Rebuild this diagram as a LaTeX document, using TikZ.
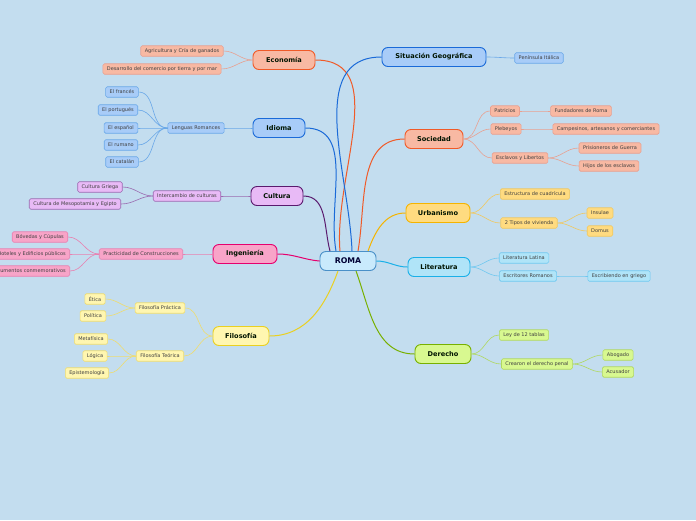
\documentclass[tikz,border=0pt]{standalone}
\usepackage{fontspec}
\setmainfont{DejaVu Sans}
\begin{document}
\begin{tikzpicture}[x=1pt,y=-1pt,
 main/.style={draw,rounded corners=6pt,line width=0.9pt,minimum height=19pt,inner xsep=8pt,font=\fontsize{6.6}{7}\selectfont\bfseries,text=black!80!green!40!black},
 leaf/.style={draw,rounded corners=1.5pt,line width=0.6pt,minimum height=10.5pt,inner xsep=4pt,inner ysep=1pt,font=\fontsize{5}{5.5}\selectfont,text=black!75},
 br/.style={line width=1pt},
 sb/.style={line width=0.6pt}]
\definecolor{bg}{HTML}{C3DDEF}
\fill[bg] (0,0) rectangle (696,520);
\useasboundingbox (0,0) rectangle (696,520);
\definecolor{ecoF}{HTML}{F8B9A3}\definecolor{ecoD}{HTML}{F05A28}\definecolor{ecoL}{HTML}{E8A090}
\definecolor{idF}{HTML}{A8CCF8}\definecolor{idD}{HTML}{1A6AD8}\definecolor{idL}{HTML}{6AA8E8}
\definecolor{cuF}{HTML}{E8BAF6}\definecolor{cuD}{HTML}{5A1A6E}\definecolor{cuL}{HTML}{9A6AB0}
\definecolor{inF}{HTML}{F8A4C8}\definecolor{inD}{HTML}{E6006E}\definecolor{inL}{HTML}{E880B0}
\definecolor{fiF}{HTML}{FFF6B0}\definecolor{fiD}{HTML}{EAD020}\definecolor{fiL}{HTML}{EEDC70}
\definecolor{urF}{HTML}{FFDB80}\definecolor{urD}{HTML}{F5B400}\definecolor{urL}{HTML}{F0C860}
\definecolor{liF}{HTML}{B0E4F8}\definecolor{liD}{HTML}{1AB0E8}\definecolor{liL}{HTML}{70C8F0}
\definecolor{deF}{HTML}{D8F890}\definecolor{deD}{HTML}{78B000}\definecolor{deL}{HTML}{B0D860}
\definecolor{roF}{HTML}{C9EAFC}\definecolor{roD}{HTML}{4A90C8}

\node[main,fill=roF,draw=roD,minimum width=56pt,font=\fontsize{7.8}{8}\selectfont\bfseries,text=black!80!blue] (roma) at (348,261) {ROMA};

% Economia
\node[main,fill=ecoF,draw=ecoD,minimum width=62pt] (eco) at (284,60) {Economía};
\node[leaf,fill=ecoF,draw=ecoL] (eco1) at (182,51) {Agricultura y Cría de ganados};
\node[leaf,fill=ecoF,draw=ecoL] (eco2) at (162,69) {Desarrollo del comercio por tierra y por mar};
% Situacion
\node[main,fill=idF,draw=idD,minimum width=104pt] (sit) at (434,57) {Situación Geográfica};
\node[leaf,fill=idF,draw=idL] (sit1) at (539,58) {Península Itálica};
% Idioma
\node[main,fill=idF,draw=idD,minimum width=52pt] (idi) at (279,128) {Idioma};
\node[leaf,fill=idF,draw=idL] (len) at (196,128) {Lenguas Romances};
\node[leaf,fill=idF,draw=idL] (i1) at (122,92) {El francés};
\node[leaf,fill=idF,draw=idL] (i2) at (118,110) {El portugués};
\node[leaf,fill=idF,draw=idL] (i3) at (121,128) {El español};
\node[leaf,fill=idF,draw=idL] (i4) at (121,145) {El rumano};
\node[leaf,fill=idF,draw=idL] (i5) at (122,162) {El catalán};
% Cultura
\node[main,fill=cuF,draw=cuD,minimum width=52pt] (cul) at (277,196) {Cultura};
\node[leaf,fill=cuF,draw=cuL] (int) at (187,196) {Intercambio de culturas};
\node[leaf,fill=cuF,draw=cuL] (c1) at (100,187) {Cultura Griega};
\node[leaf,fill=cuF,draw=cuL] (c2) at (75,204) {Cultura de Mesopotamia y Egipto};
% Ingenieria
\node[main,fill=inF,draw=inD,minimum width=64pt] (ing) at (245,254) {Ingeniería};
\node[leaf,fill=inF,draw=inL] (pra) at (141,254) {Practicidad de Construcciones};
\node[leaf,fill=inF,draw=inL] (g1) at (40,237) {Bóvedas y Cúpulas};
\node[leaf,fill=inF,draw=inL,anchor=east] (g2) at (70,254) {Hoteles y Edificios públicos};
\node[leaf,fill=inF,draw=inL,anchor=east] (g3) at (70,271) {Monumentos conmemorativos};
% Filosofia
\node[main,fill=fiF,draw=fiD,minimum width=56pt] (fil) at (241,336) {Filosofía};
\node[leaf,fill=fiF,draw=fiL] (fp) at (160,308) {Filosofía Práctica};
\node[leaf,fill=fiF,draw=fiL] (f1) at (95,299) {Ética};
\node[leaf,fill=fiF,draw=fiL] (f2) at (93,316) {Política};
\node[leaf,fill=fiF,draw=fiL] (ft) at (160,356) {Filosofía Teórica};
\node[leaf,fill=fiF,draw=fiL] (f3) at (91,339) {Metafísica};
\node[leaf,fill=fiF,draw=fiL] (f4) at (95,356) {Lógica};
\node[leaf,fill=fiF,draw=fiL] (f5) at (87,373) {Epistemología};
% Sociedad
\node[main,fill=ecoF,draw=ecoD,minimum width=58pt] (soc) at (434,139) {Sociedad};
\node[leaf,fill=ecoF,draw=ecoL] (s1) at (505,111) {Patricios};
\node[leaf,fill=ecoF,draw=ecoL] (s2) at (506,129) {Plebeyos};
\node[leaf,fill=ecoF,draw=ecoL] (s3) at (520,158) {Esclavos y Libertos};
\node[leaf,fill=ecoF,draw=ecoL] (s1a) at (581,111) {Fundadores de Roma};
\node[leaf,fill=ecoF,draw=ecoL] (s2a) at (606,129) {Campesinos, artesanos y comerciantes};
\node[leaf,fill=ecoF,draw=ecoL] (s3a) at (610,148) {Prisioneros de Guerra};
\node[leaf,fill=ecoF,draw=ecoL] (s3b) at (609,166) {Hijos de los esclavos};
% Urbanismo
\node[main,fill=urF,draw=urD,minimum width=64pt] (urb) at (438,213) {Urbanismo};
\node[leaf,fill=urF,draw=urL] (u1) at (535,194) {Estructura de cuadrícula};
\node[leaf,fill=urF,draw=urL] (u2) at (529,223) {2 Tipos de vivienda};
\node[leaf,fill=urF,draw=urL] (u2a) at (600,213) {Insulae};
\node[leaf,fill=urF,draw=urL] (u2b) at (600,231) {Domus};
% Literatura
\node[main,fill=liF,draw=liD,minimum width=62pt] (lit) at (439,267) {Literatura};
\node[leaf,fill=liF,draw=liL] (l1) at (524,258) {Literatura Latina};
\node[leaf,fill=liF,draw=liL] (l2) at (528,276) {Escritores Romanos};
\node[leaf,fill=liF,draw=liL] (l2a) at (619,276) {Escribiendo en griego};
% Derecho
\node[main,fill=deF,draw=deD,minimum width=56pt] (der) at (443,354) {Derecho};
\node[leaf,fill=deF,draw=deL] (d1) at (524,335) {Ley de 12 tablas};
\node[leaf,fill=deF,draw=deL] (d2) at (537,364) {Crearon el derecho penal};
\node[leaf,fill=deF,draw=deL] (d2a) at (618,355) {Abogado};
\node[leaf,fill=deF,draw=deL] (d2b) at (618,372) {Acusador};

% main branches
\draw[br,ecoD] ([xshift=-8pt]roma.north) to[out=95,in=0] (eco.east);
\draw[br,idD] ([xshift=4pt]roma.north) to[out=92,in=180] (sit.west);
\draw[br,idD] ([xshift=-12pt]roma.north) to[out=100,in=0] (idi.east);
\draw[br,cuD] ([xshift=-18pt]roma.north) to[out=105,in=0] (cul.east);
\draw[br,inD] (roma.west) to[out=175,in=0] (ing.east);
\draw[br,fiD] ([xshift=-10pt]roma.south) to[out=-110,in=0] (fil.east);
\draw[br,ecoD] ([xshift=10pt]roma.north) to[out=80,in=180] (soc.west);
\draw[br,urD] ([xshift=20pt]roma.north) to[out=70,in=180] (urb.west);
\draw[br,liD] (roma.east) to[out=0,in=180] (lit.west);
\draw[br,deD] ([xshift=8pt]roma.south) to[out=-70,in=180] (der.west);
% sub connectors
\foreach \p/\c/\col in {eco/eco1/ecoL,eco/eco2/ecoL,idi/len/idL,len/i1/idL,len/i2/idL,len/i3/idL,len/i4/idL,len/i5/idL,cul/int/cuL,int/c1/cuL,int/c2/cuL,ing/pra/inL,pra/g1/inL,pra/g2/inL,pra/g3/inL,fil/fp/fiL,fil/ft/fiL,fp/f1/fiL,fp/f2/fiL,ft/f3/fiL,ft/f4/fiL,ft/f5/fiL}
  \draw[sb,\col] (\p.west) to[out=180,in=0] (\c.east);
\foreach \p/\c/\col in {sit/sit1/idL,soc/s1/ecoL,soc/s2/ecoL,soc/s3/ecoL,s1/s1a/ecoL,s2/s2a/ecoL,s3/s3a/ecoL,s3/s3b/ecoL,urb/u1/urL,urb/u2/urL,u2/u2a/urL,u2/u2b/urL,lit/l1/liL,lit/l2/liL,l2/l2a/liL,der/d1/deL,der/d2/deL,d2/d2a/deL,d2/d2b/deL}
  \draw[sb,\col] (\p.east) to[out=0,in=180] (\c.west);
\end{tikzpicture}
\end{document}
